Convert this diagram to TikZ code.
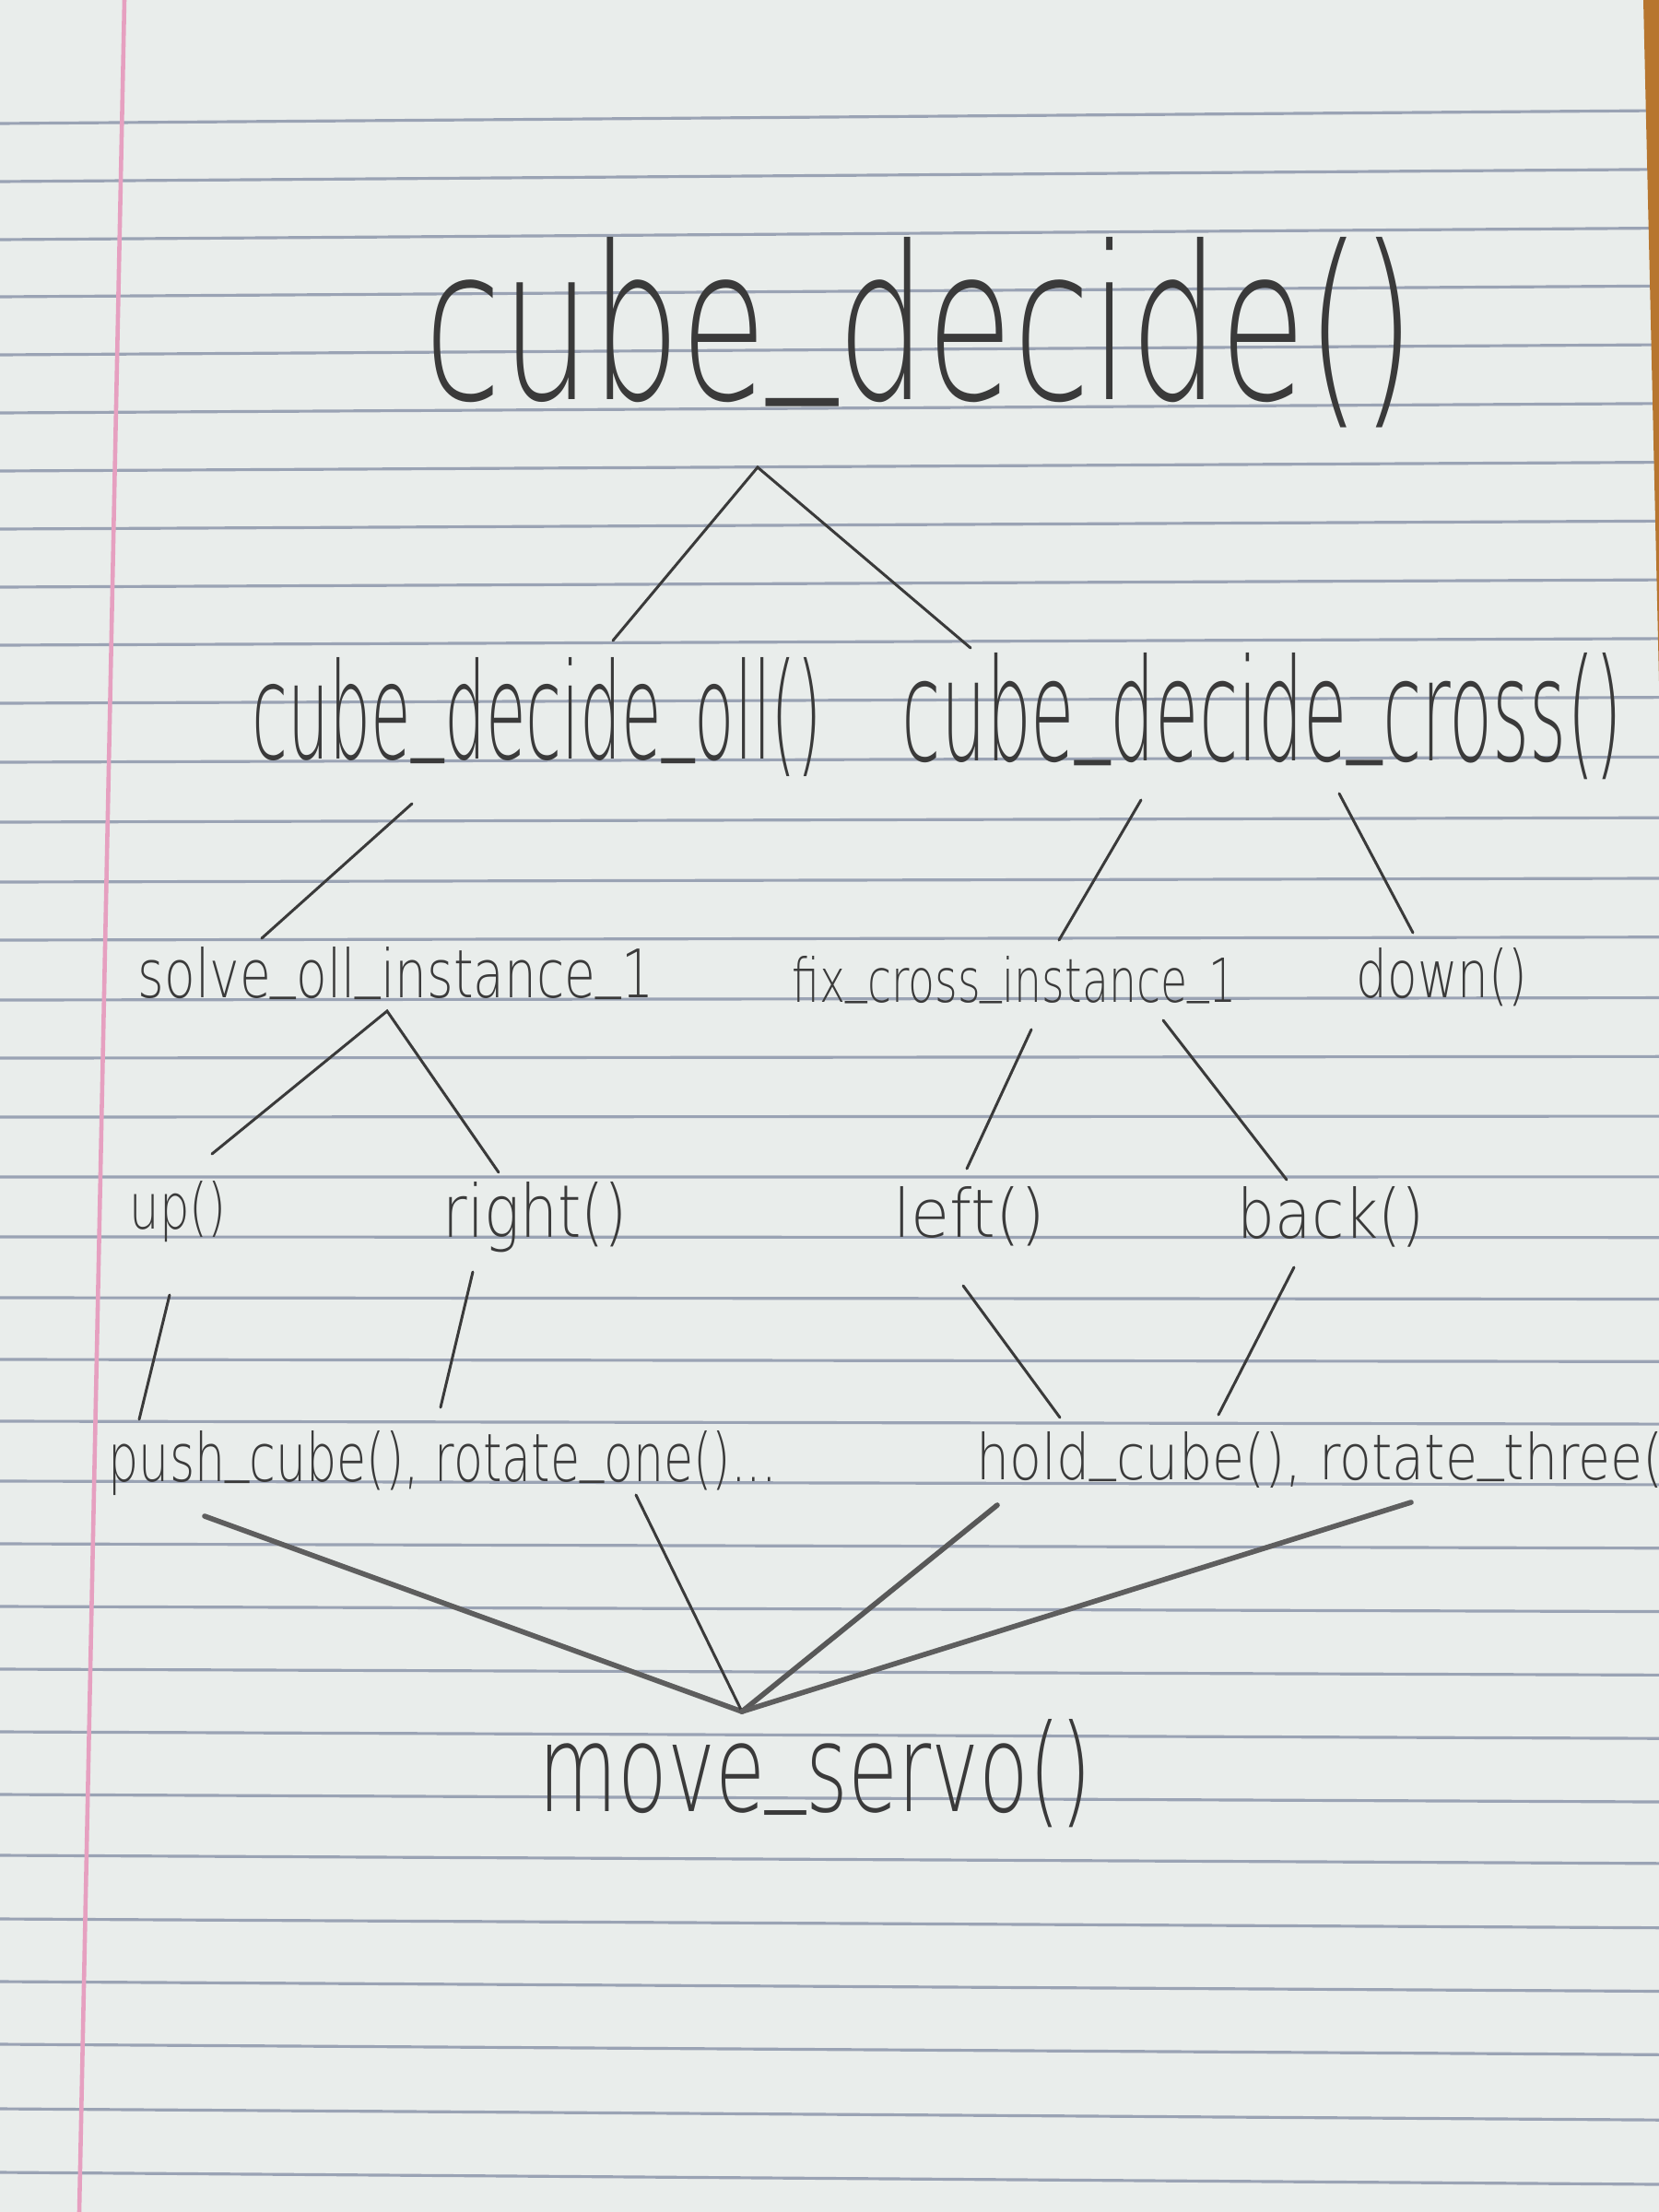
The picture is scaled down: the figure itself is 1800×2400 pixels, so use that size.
\documentclass[tikz,border=0pt]{standalone}
\usepackage{fontspec}
\usepackage{graphicx}
\newfontfamily\hand{DejaVu Sans ExtraLight}
\definecolor{paper}{HTML}{E9EDEB}
\definecolor{rule}{HTML}{9AA3B4}
\definecolor{marginpink}{HTML}{E6A0C0}
\definecolor{wood}{HTML}{B7762F}
\definecolor{pencil}{HTML}{3A3A3A}
\definecolor{pencilsoft}{HTML}{5E5E5E}
\newcommand\hw[3]{\resizebox{#1}{#2}{\hand #3}}
\newcommand\us{\raisebox{0.2em}{\_}}
\tikzset{
  lbl/.style={inner sep=0pt, anchor=base west, text=pencil},
  conn/.style={draw=pencil, line width=0.85pt, line cap=round},
  longconn/.style={draw=pencilsoft, line width=1.6pt, line cap=round},
  ruleline/.style={draw=rule, line width=0.9pt},
}
\begin{document}
\begin{tikzpicture}[x=0.01cm,y=-0.01cm]
\clip (0,0) rectangle (1800,2400);
\fill[paper] (0,0) rectangle (1800,2400);
\foreach \yy in {134,197,260,322,385,448,511,574,637,700,763,827,892,957,1020,1085,1148,1212,1277,1342,1408,1475,1542,1607,1675,1743,1811,1879,1947,2013,2082,2150,2218,2288,2357}{
  \pgfmathsetmacro\tl{\yy-14+0.012146*(\yy-134)}
  \draw[ruleline] (0,\yy) -- (1800,\tl);
}
\draw[marginpink, line width=1.3pt] (135,0) -- (86,2400);
\fill[wood] (1783,0) -- (1800,0) -- (1800,740) -- cycle;

% labels
\node[lbl] (cd) at (460,433) {\hw{10.75cm}{1.76cm}{cube\us decide()}};
\node[lbl] (oll) at (273,823) {\hw{6.18cm}{1.10cm}{cube\us decide\us oll()}};
\node[lbl] (cross) at (978,825) {\hw{7.81cm}{1.17cm}{cube\us decide\us cross()}};
\node[lbl] (solve) at (149,1082) {\hw{5.59cm}{0.55cm}{solve\us oll\us instance\us 1}};
\node[lbl] (fix) at (859,1087) {\hw{4.82cm}{0.50cm}{fix\us cross\us instance\us 1}};
\node[lbl] (down) at (1471,1082) {\hw{1.85cm}{0.54cm}{down()}};
\node[lbl] (up) at (140,1333) {\hw{1.05cm}{0.52cm}{up()}};
\node[lbl] (right) at (480,1342) {\hw{2.00cm}{0.60cm}{right()}};
\node[lbl] (left) at (969,1342) {\hw{1.64cm}{0.55cm}{left()}};
\node[lbl] (back) at (1342,1343) {\hw{2.03cm}{0.56cm}{back()}};
\node[lbl] (push) at (117,1607) {\hw{7.25cm}{0.55cm}{push\us cube(), rotate\us one()...}};
\node[lbl] (hold) at (1059,1605) {\hw{7.45cm}{0.52cm}{hold\us cube(), rotate\us three(}};
\node[lbl] (servo) at (584,1965) {\hw{6.00cm}{1.00cm}{move\us servo()}};

% connector end points
\coordinate (t1) at (822,507);
\coordinate (t2) at (665,695);
\coordinate (t3) at (1053,703);
\coordinate (o1) at (447,872);
\coordinate (o2) at (284,1018);
\coordinate (c1) at (1238,868);
\coordinate (c2) at (1149,1020);
\coordinate (c3) at (1453,861);
\coordinate (c4) at (1533,1012);
\coordinate (s1) at (420,1097);
\coordinate (s2) at (230,1252);
\coordinate (s3) at (541,1272);
\coordinate (f1) at (1119,1117);
\coordinate (f2) at (1049,1268);
\coordinate (f3) at (1262,1107);
\coordinate (f4) at (1396,1280);
\coordinate (u1) at (184,1405);
\coordinate (u2) at (151,1540);
\coordinate (r1) at (513,1380);
\coordinate (r2) at (478,1527);
\coordinate (l1) at (1045,1395);
\coordinate (l2) at (1150,1538);
\coordinate (b1) at (1404,1375);
\coordinate (b2) at (1322,1535);
\coordinate (m0) at (805,1857);
\coordinate (m1) at (222,1645);
\coordinate (m2) at (690,1622);
\coordinate (m3) at (1082,1633);
\coordinate (m4) at (1531,1630);

% connectors
\draw[conn] (t2) -- (t1) -- (t3);
\draw[conn] (o1) -- (o2);
\draw[conn] (c1) -- (c2);
\draw[conn] (c3) -- (c4);
\draw[conn] (s2) -- (s1) -- (s3);
\draw[conn] (f1) -- (f2);
\draw[conn] (f3) -- (f4);
\draw[conn] (u1) -- (u2);
\draw[conn] (r1) -- (r2);
\draw[conn] (l1) -- (l2);
\draw[conn] (b1) -- (b2);
\draw[longconn] (m1) -- (m0);
\draw[conn] (m2) -- (m0);
\draw[longconn, draw=pencil!85] (m3) -- (m0);
\draw[longconn] (m4) -- (m0);
\end{tikzpicture}
\end{document}
